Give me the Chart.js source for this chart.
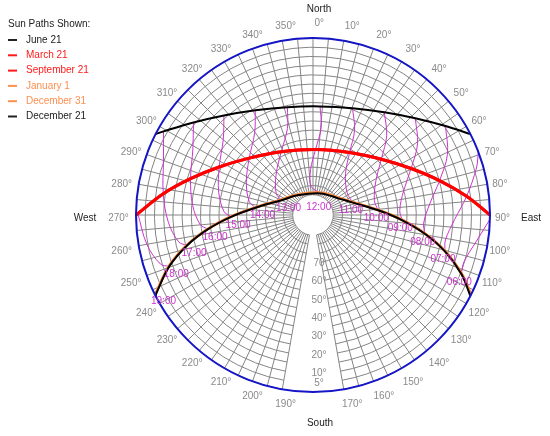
<!DOCTYPE html>
<html>
<head>
<meta charset="utf-8">
<title>Sun Path Diagram</title>
<script src="https://cdn.jsdelivr.net/npm/chart.js@4.4.1/dist/chart.umd.min.js"></script>
<style>
  html, body { margin: 0; padding: 0; background: #fff; }
  canvas { display: block; }
</style>
</head>
<body>
<canvas id="chart" width="550" height="436"></canvas>
<script>
// sun positions, each point is [azimuth, altitude] in degrees
const june21 = [[62.8,0],[56.14,9.43],[46.59,19.64],[34.77,28.17],[20.31,34.24],[3.70,36.97],[346.64,35.87],[331.13,31.13],[318.18,23.56],[307.73,13.99],[299.22,3.09],[297.2,0]];
const march21 = [[90,0],[83.05,12.07],[74.79,24.87],[64.64,37.12],[50.78,48.18],[30.38,56.74],[2.23,60.48],[333.32,57.66],[311.73,49.64],[297.10,38.84],[286.54,26.71],[278.09,13.97],[270,0]];
const september21 = [[90,0],[83.05,12.07],[74.79,24.87],[64.64,37.12],[50.78,48.18],[30.38,56.74],[2.23,60.48],[333.32,57.66],[311.73,49.64],[297.10,38.84],[286.54,26.71],[278.09,13.97],[270,0]];
const january1 = [[116.7,0],[111.70,8.95],[105.44,21.32],[99.54,34.06],[93.40,47.03],[85.87,60.08],[72.74,72.91],[57.78,78.87],[19.67,83.14],[321.56,81.94],[295.22,76.73],[277.23,64.14],[268.72,51.12],[262.32,38.11],[256.42,25.28],[250.33,12.77],[243.56,0.76],[243.3,0]];
const december31 = [[116.85,0],[111.70,9.09],[105.44,21.46],[99.54,34.20],[93.40,47.17],[85.87,60.22],[72.74,73.05],[57.78,79.01],[19.67,83.28],[321.56,82.08],[295.22,76.87],[277.23,64.28],[268.72,51.26],[262.32,38.25],[256.42,25.42],[250.33,12.91],[243.56,0.90],[243.15,0]];
const december21 = [[117.2,0],[111.70,9.39],[105.44,21.76],[99.54,34.50],[93.40,47.47],[85.87,60.52],[72.74,73.35],[57.78,79.31],[19.67,83.58],[321.56,82.38],[295.22,77.17],[277.23,64.58],[268.72,51.56],[262.32,38.55],[256.42,25.72],[250.33,13.21],[243.56,1.20],[242.8,0]];

// hour lines, June 21 -> December 21 (last point is the Dec 21 position)
const hourLabels = ['06:00','07:00','08:00','09:00','10:00','11:00','12:00','13:00','14:00','15:00','16:00','17:00','18:00','19:00'];
const hourLines = [
  [[91.4,0],[99.04,6.20],[107.17,10.23],[111.70,9.39]],
  [[69.1,0],[73.95,3.76],[83.05,12.07],[91.90,19.19],[100.69,22.90],[105.44,21.76]],
  [[56.14,9.43],[65.74,16.01],[74.79,24.87],[84.27,32.23],[94.23,35.83],[99.54,34.50]],
  [[46.59,19.64],[55.77,27.41],[64.64,37.12],[74.96,45.07],[86.94,48.88],[93.40,47.47]],
  [[34.77,28.17],[42.94,37.34],[50.78,48.18],[61.52,57.20],[76.85,61.80],[85.87,60.52]],
  [[20.31,34.24],[26.11,44.78],[30.38,56.74],[37.95,67.27],[56.72,73.88],[72.74,73.35]],
  [[3.70,36.97],[5.34,48.36],[2.23,60.48],[356.92,71.40],[356.06,80.38],[19.67,83.58]],
  [[346.64,35.87],[343.54,47.07],[333.32,57.66],[317.96,66.16],[300.43,72.83],[295.22,77.17]],
  [[331.13,31.13],[324.64,41.33],[311.73,49.64],[296.29,55.66],[281.98,60.62],[277.23,64.58]],
  [[318.18,23.56],[310.00,32.44],[297.10,38.84],[283.63,43.38],[272.31,47.66],[268.72,51.56]],
  [[307.73,13.99],[298.80,21.66],[286.54,26.71],[274.65,30.50],[265.14,34.62],[262.32,38.55]],
  [[299.22,3.09],[289.86,9.76],[278.09,13.97],[267.14,17.45],[258.71,21.70],[256.42,25.72]],
  [[270.54,0.96],[260.01,4.49],[252.20,9.07],[250.33,13.21]],
  [[242.6,0],[243.56,1.20]]
];

// grid and tick labels
const ringAltitudes = [0,5,10,15,20,25,30,35,40,45,50,55,60,65,70,75,80,85];
const altitudeTicks = [5,10,20,30,40,50,60,70];
const altitudeLabels = ['5°','10°','20°','30°','40°','50°','60°','70'];
const azimuthTicks = [0,10,20,30,40,50,60,70,80,90,100,110,120,130,140,150,160,170,190,200,210,220,230,240,250,260,270,280,290,300,310,320,330,340,350];
const cardinals = ['North','East','South','West'];

const legendNames = ['June 21','March 21','September 21','January 1','December 31','December 21'];
const legendColors = ['#222222','#ff1a1a','#ff1a1a','#ff8f4f','#ff8f4f','#222222'];

const RED = '#ff0000';
const BLACK = '#000000';
const ORANGE = '#ff8a40';
const MAGENTA = '#cc33cc';
const GRID = '#858585';
const LABEL_GRAY = '#8a8a8a';
const FONT = '10px "Liberation Sans", Arial, sans-serif';

// the horizon sits at 96, the zenith shows as a small hole
const RHO_MAX = 96;
const rad = d => d * Math.PI / 180;
const toXY = ([az, alt]) => {
  const r = RHO_MAX - alt;
  return { x: r * Math.sin(rad(az)), y: r * Math.cos(rad(az)) };
};

const line = (label, pts, color, width, order) => ({
  label,
  data: pts.map(toXY),
  showLine: true,
  borderColor: color,
  backgroundColor: color,
  borderWidth: width,
  pointRadius: 0,
  tension: 0.35,
  fill: false,
  clip: false,
  order
});

const datasets = [
  line('June 21', june21, BLACK, 2, 1),
  line('December 21', december21, BLACK, 2, 1),
  line('March 21', march21, RED, 3, 2),
  line('September 21', september21, RED, 3, 2),
  line('January 1', january1, ORANGE, 2.5, 3),
  line('December 31', december31, ORANGE, 2.5, 3),
  ...hourLines.map((pts, i) => line(hourLabels[i], pts, MAGENTA, 1, 4))
];

const polarGrid = {
  id: 'polarGrid',
  beforeDatasetsDraw(chart) {
    const { ctx, scales: { x, y } } = chart;
    const cx = x.getPixelForValue(0), cy = y.getPixelForValue(0);
    const ringR = alt => x.getPixelForValue(RHO_MAX - alt) - cx;
    ctx.save();
    ctx.strokeStyle = GRID;
    ctx.lineWidth = 1;
    // rings stop at the empty wedge round south (170..190)
    ringAltitudes.forEach(alt => {
      ctx.beginPath();
      ctx.arc(cx, cy, ringR(alt), rad(190 - 90), rad(170 + 360 - 90));
      ctx.stroke();
    });
    for (let az = 0; az < 360; az += 5) {
      if (az > 170 && az < 190) continue;
      const s = Math.sin(rad(az)), c = Math.cos(rad(az));
      const r1 = ringR(85), r2 = ringR(0);
      ctx.beginPath();
      ctx.moveTo(cx + r1 * s, cy - r1 * c);
      ctx.lineTo(cx + r2 * s, cy - r2 * c);
      ctx.stroke();
    }
    ctx.restore();
  },
  afterDatasetsDraw(chart) {
    const { ctx, scales: { x, y } } = chart;
    const cx = x.getPixelForValue(0), cy = y.getPixelForValue(0);
    ctx.save();
    ctx.strokeStyle = '#1515c8';
    ctx.lineWidth = 2;
    ctx.beginPath();
    ctx.arc(cx, cy, x.getPixelForValue(RHO_MAX) - cx, 0, Math.PI * 2);
    ctx.stroke();
    ctx.restore();
  },
  afterDraw(chart) {
    const { ctx, scales: { x, y } } = chart;
    const cx = x.getPixelForValue(0), cy = y.getPixelForValue(0);
    const R0 = x.getPixelForValue(RHO_MAX) - cx;
    ctx.save();
    ctx.textAlign = 'center';
    ctx.textBaseline = 'middle';
    ctx.font = FONT;

    // azimuth labels
    ctx.fillStyle = LABEL_GRAY;
    azimuthTicks.forEach(az => {
      const s = Math.sin(rad(az)), c = Math.cos(rad(az));
      const R = R0 + 15;
      ctx.fillText(az + '°', cx + R * s - 2.5 + 8.7 * c * c, cy - R * c + 3 * s * s);
    });

    // altitude labels along the south wedge
    altitudeTicks.forEach((alt, i) => {
      const py = y.getPixelForValue(-(RHO_MAX - alt));
      ctx.fillText(altitudeLabels[i], cx + 6, py);
    });

    // compass points
    ctx.fillStyle = '#222';
    ctx.fillText(cardinals[0], cx + 6, cy - R0 - 29);
    ctx.fillText(cardinals[1], cx + R0 + 41, cy + 3);
    ctx.fillText(cardinals[2], cx + 7, cy + R0 + 31);
    ctx.fillText(cardinals[3], cx - R0 - 51, cy + 3);

    // hour labels at the December 21 end of each hour line
    ctx.fillStyle = MAGENTA;
    hourLines.forEach((pts, i) => {
      const p = toXY(pts[pts.length - 1]);
      const hour = parseInt(hourLabels[i], 10);
      const dx = hour > 12 ? 7 : -2;
      const dy = hour === 12 ? 14 : 8;
      ctx.fillText(hourLabels[i], x.getPixelForValue(p.x) + dx, y.getPixelForValue(p.y) + dy);
    });

    // legend
    ctx.textAlign = 'left';
    ctx.fillStyle = '#222';
    ctx.fillText('Sun Paths Shown:', 8, 24);
    legendNames.forEach((name, i) => {
      const ly = 40 + i * 15.3;
      ctx.strokeStyle = legendColors[i];
      ctx.lineWidth = 2;
      ctx.beginPath();
      ctx.moveTo(8, ly);
      ctx.lineTo(17, ly);
      ctx.stroke();
      ctx.fillStyle = legendColors[i];
      ctx.fillText(name, 26, ly);
    });
    ctx.restore();
  }
};

new Chart(document.getElementById('chart'), {
  type: 'scatter',
  data: { datasets },
  options: {
    responsive: false,
    animation: false,
    events: [],
    layout: { padding: { left: 136, right: 60, top: 38, bottom: 44 } },
    scales: {
      x: { display: false, min: -RHO_MAX, max: RHO_MAX },
      y: { display: false, min: -RHO_MAX, max: RHO_MAX }
    },
    plugins: {
      legend: { display: false },
      tooltip: { enabled: false }
    }
  },
  plugins: [polarGrid]
});
</script>
</body>
</html>
